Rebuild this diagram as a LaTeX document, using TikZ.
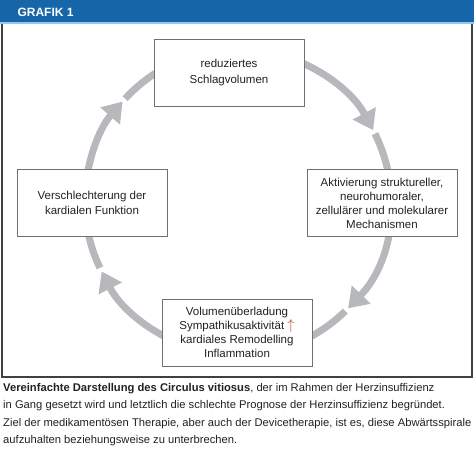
\documentclass[tikz,border=0pt]{standalone}
\usepackage{fontspec}
\setmainfont{Liberation Sans}
\usepackage{xcolor}
\usetikzlibrary{arrows.meta}
\definecolor{headblue}{HTML}{1766AA}
\definecolor{headline}{HTML}{8CCBEF}
\definecolor{arcgray}{HTML}{B6B8BB}
\definecolor{boxgray}{HTML}{707070}
\definecolor{textgray}{HTML}{222222}
\definecolor{arrowred}{HTML}{C0392B}

\begin{document}
\begin{tikzpicture}[x=1pt, y=-1pt,
  kasten/.style={draw=boxgray, line width=0.9pt, fill=white, minimum width=150pt,
    minimum height=67pt, inner sep=0pt, align=center, text=textgray,
    font=\fontsize{11.5}{14}\selectfont},
  kreis/.style={draw=arcgray, line width=7pt},
  pfeil/.style={kreis, -{Triangle[width=25pt,length=19pt]}}]
\useasboundingbox (0,0) rectangle (474,462);
\fill[white] (0,0) rectangle (474,462);
% Header band
\fill[headblue] (0,0) rectangle (474,22);
\fill[headline] (0,22) rectangle (474,24);
\node[anchor=west, text=white, font=\bfseries\fontsize{12}{14}\selectfont] (titel) at (14,12) {GRAFIK 1};
% Frame
\draw[line width=2pt, draw=black!75] (2,24) -- (2,377) -- (472,377) -- (472,24);

% Circle of arrows (angles run clockwise, y points down)
\coordinate (mitte) at (238,202);
\def\rad{153}
\foreach \a/\b in {180/221, 222.5/332, 333.5/404, 405.5/513} {
  \draw[pfeil] (mitte) ++(\a:\rad) arc[start angle=\a, end angle=\b, radius=\rad];
}
\draw[kreis] (mitte) ++(514.5:\rad) arc[start angle=514.5, end angle=540, radius=\rad];

% Boxes
\node[kasten, font=\fontsize{11.5}{16}\selectfont] (schlag) at (229,73) {reduziertes\\Schlagvolumen};
\node[kasten] (aktiv) at (382,203) {Aktivierung struktureller,\\neurohumoraler,\\zellulärer und molekularer\\Mechanismen};
\node[kasten] (volumen) at (237,332.5) {Volumenüberladung\\Sympathikusaktivität {\color{arrowred}\fontsize{15}{14}\selectfont$\uparrow$}\\kardiales Remodelling\\Inflammation};
\node[kasten, font=\fontsize{11.5}{15}\selectfont] (funktion) at (92,202.5) {Verschlechterung der\\kardialen Funktion};

% Caption
\node[anchor=north west, align=left, inner sep=0pt, text=textgray,
  font=\fontsize{11.2}{17.5}\selectfont] (legende) at (3,383)
  {\textbf{Vereinfachte Darstellung des Circulus vitiosus}, der im Rahmen der Herzinsuffizienz\\
   in Gang gesetzt wird und letztlich die schlechte Prognose der Herzinsuffizienz begründet.\\
   Ziel der medikamentösen Therapie, aber auch der Devicetherapie, ist es, diese Abwärtsspirale\\
   aufzuhalten beziehungsweise zu unterbrechen.};
\end{tikzpicture}
\end{document}
